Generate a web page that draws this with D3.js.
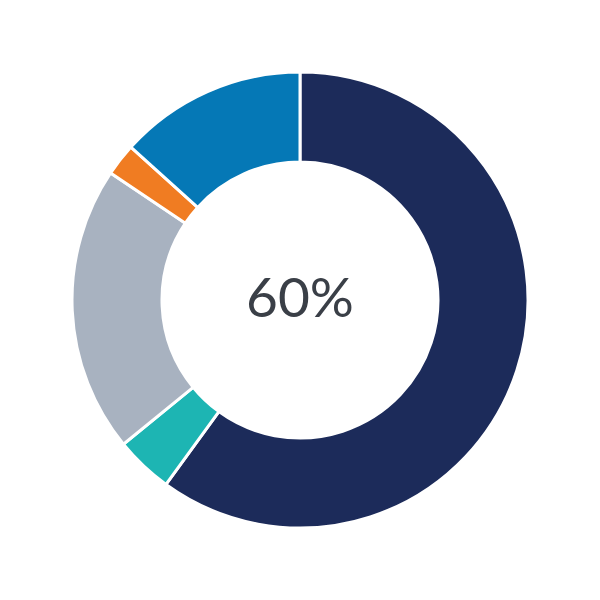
<!DOCTYPE html>
<html>
<head>
<meta charset="utf-8">
<script src="https://cdn.jsdelivr.net/npm/d3@7"></script>
<style>
  body { margin: 0; background: #fff; }
</style>
</head>
<body>
<svg id="chart"></svg>
<script>
// slices, clockwise from 12 o'clock
const categories = ["A", "B", "C", "D", "E"];
const values = [60, 4.1, 20.3, 2.3, 13.3];
const colors = ["#1c2b5a", "#1db5b3", "#a8b2c0", "#f07c22", "#0578b6"];
const centerLabel = "60%";

const width = 600, height = 600;
const outerR = 228, innerR = 138;

const svg = d3.select("#chart")
    .attr("width", width)
    .attr("height", height);

const g = svg.append("g")
    .attr("transform", "translate(" + 300 + "," + 300 + ")");

const color = d3.scaleOrdinal().domain(categories).range(colors);

const pie = d3.pie().sort(null).value(d => d.v);
const arc = d3.arc().innerRadius(innerR).outerRadius(outerR);

const data = categories.map((c, i) => ({c: c, v: values[i]}));

g.selectAll("path")
    .data(pie(data))
    .join("path")
    .attr("d", arc)
    .attr("fill", d => color(d.data.c))
    .attr("stroke", "#fff")
    .attr("stroke-width", 3);

g.append("text")
    .attr("text-anchor", "middle")
    .attr("y", 17)
    .attr("font-family", "Lato, 'Open Sans', sans-serif")
    .attr("font-weight", 400)
    .attr("font-size", 55)
    .attr("fill", "#3a3f47")
    .text(centerLabel);
</script>
</body>
</html>
